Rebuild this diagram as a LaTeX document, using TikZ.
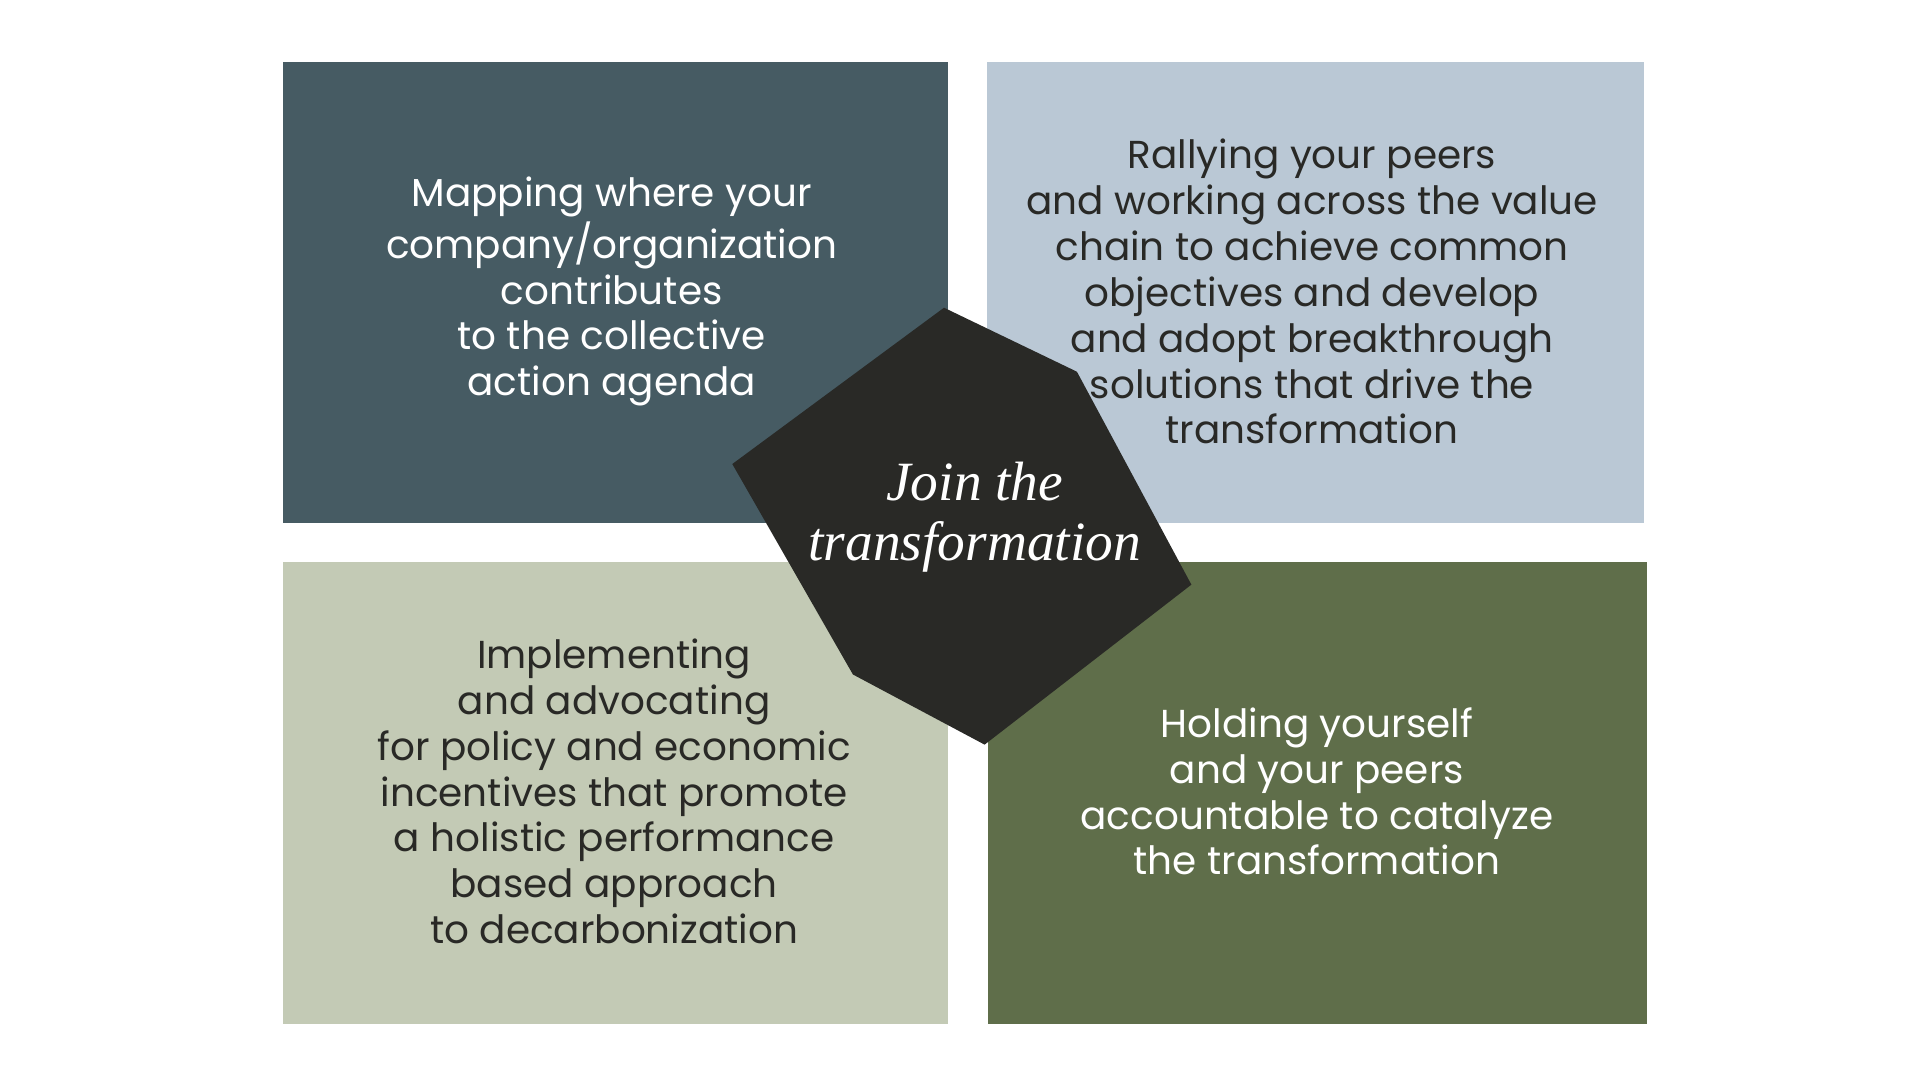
\documentclass[tikz,border=0pt]{standalone}
\usepackage{fontspec}
\setmainfont{Poppins}
\newfontfamily\serifit{Liberation Serif}
\usetikzlibrary{positioning}
\definecolor{slate}{HTML}{465B63}
\definecolor{mist}{HTML}{BAC8D5}
\definecolor{sage}{HTML}{C3CAB5}
\definecolor{moss}{HTML}{5F6E4A}
\definecolor{coal}{HTML}{292926}
\tikzset{
  quad/.style={inner sep=0pt, outer sep=0pt},
  quadtext/.style={align=center, font=\fontsize{9.0}{10.6}\selectfont}
}
\begin{document}
\begin{tikzpicture}[x=0.01cm, y=-0.01cm]
            \useasboundingbox (0,0) rectangle (1560,877.5);
            \fill[slate] (230, 50) rectangle (770,425);
            \fill[mist]  (802, 50) rectangle (1336,425);
            \fill[sage]  (230,457) rectangle (770,832);
            \fill[moss]  (803,457) rectangle (1338,832);
            \fill[coal]  (767,250) -- (875,302) -- (968,475) -- (800,605) -- (693,548) -- (595,377) -- cycle;
            \node[quadtext, text=white] (mapping) at (497,237)
                 {Mapping where your\\company/organization\\contributes\\to the collective\\action agenda};
            \node[quadtext, text=coal] (rallying) at (1066,237)
                 {Rallying your peers\\and working across the value\\chain to achieve common\\objectives and develop\\and adopt breakthrough\\solutions that drive the\\transformation};
            \node[quadtext, text=coal] (implementing) at (499,643)
                 {Implementing\\and advocating\\for policy and economic\\incentives that promote\\a holistic performance\\based approach\\to decarbonization};
            \node[quadtext, text=white] (holding) at (1070,643)
                 {Holding yourself\\and your peers\\accountable to catalyze\\the transformation};
            \node[align=center, text=white, font=\serifit\itshape\fontsize{12.8}{13.8}\selectfont] (join) at (792,420)
                 {Join the\\transformation};
        \end{tikzpicture}
\end{document}
